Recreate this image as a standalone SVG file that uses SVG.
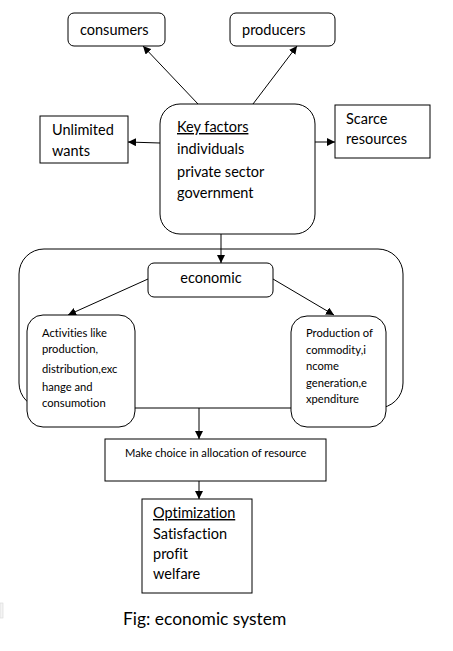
<svg xmlns="http://www.w3.org/2000/svg" width="453" height="651" viewBox="0 0 453 651">
<defs>
<marker id="ah" viewBox="0 0 10 10" refX="10" refY="5" markerWidth="8" markerHeight="8" orient="auto" markerUnits="userSpaceOnUse">
<path d="M0,0 L10,5 L0,10 z" fill="#000"/>
</marker>
<style>
.box{fill:#fff;stroke:#000;stroke-width:1}
.t{font-family:Lato,"Liberation Sans",sans-serif;font-size:14.5px;fill:#000;font-variant-ligatures:none}
.s{font-family:Lato,"Liberation Sans",sans-serif;font-size:11.2px;fill:#000;font-variant-ligatures:none}
.c{stroke:#000;stroke-width:1;fill:none}
.a{stroke:#000;stroke-width:1;fill:none;marker-end:url(#ah)}
</style>
</defs>
<rect width="453" height="651" fill="#fff"/>
<rect x="0" y="603" width="3" height="15" fill="#f4f4f4" stroke="#d8d8d8" stroke-width="0.6"/>

<g id="outer">
<rect x="19" y="249" width="384" height="159" rx="25" class="box"/>
</g>

<g id="connectors">
<line x1="198" y1="104" x2="143" y2="46" class="a"/>
<line x1="253" y1="104" x2="297" y2="46" class="a"/>
<line x1="160" y1="143" x2="128" y2="142" class="a"/>
<line x1="315" y1="142" x2="335" y2="142" class="a"/>
<line x1="221" y1="234" x2="221" y2="263" class="a"/>
<line x1="148" y1="279" x2="68" y2="315" class="a"/>
<line x1="273" y1="279" x2="334" y2="315" class="a"/>
<line x1="199" y1="408" x2="199" y2="439" class="a"/>
<line x1="199" y1="481" x2="199" y2="499" class="a"/>
</g>

<g id="consumers">
<rect x="68" y="13" width="97" height="33" rx="6" class="box"/>
<text x="80" y="35" class="t">consumers</text>
</g>
<g id="producers">
<rect x="230" y="13" width="105" height="33" rx="6" class="box"/>
<text x="242" y="35" class="t">producers</text>
</g>
<g id="key-factors">
<rect x="160" y="104" width="155" height="130" rx="20" class="box"/>
<text x="177" y="132" class="t" text-decoration="underline">Key factors</text>
<text x="177" y="154" class="t">individuals</text>
<text x="177" y="177" class="t">private sector</text>
<text x="177" y="198" class="t">government</text>
</g>
<g id="unlimited-wants">
<rect x="40" y="116" width="88" height="47" class="box"/>
<text x="52" y="135" class="t">Unlimited</text>
<text x="52" y="156" class="t">wants</text>
</g>
<g id="scarce-resources">
<rect x="335" y="105" width="95" height="53" class="box"/>
<text x="346" y="124" class="t">Scarce</text>
<text x="346" y="144" class="t">resources</text>
</g>
<g id="economic">
<rect x="148" y="263" width="125" height="34" rx="6" class="box"/>
<text x="211" y="283" class="t" text-anchor="middle">economic</text>
</g>
<g id="activities">
<rect x="27" y="315" width="108" height="112" rx="16" class="box"/>
<text x="42" y="337" class="s">Activities like</text>
<text x="42" y="353" class="s">production,</text>
<text x="42" y="373" class="s">distribution,exc</text>
<text x="42" y="391" class="s">hange and</text>
<text x="42" y="407" class="s">consumotion</text>
</g>
<g id="production">
<rect x="291" y="316" width="95" height="111" rx="16" class="box"/>
<text x="306" y="337" class="s">Production of</text>
<text x="306" y="354" class="s">commodity,i</text>
<text x="306" y="370" class="s">ncome</text>
<text x="306" y="387" class="s">generation,e</text>
<text x="306" y="403" class="s">xpenditure</text>
</g>
<g id="make-choice">
<rect x="105" y="439" width="221" height="42" class="box"/>
<text x="125" y="457" class="s">Make choice in allocation of resource</text>
</g>
<g id="optimization">
<rect x="142" y="499" width="110" height="94" class="box"/>
<text x="153" y="518" class="t" text-decoration="underline">Optimization</text>
<text x="153" y="539" class="t">Satisfaction</text>
<text x="153" y="559" class="t">profit</text>
<text x="153" y="579" class="t">welfare</text>
</g>
<text x="123" y="625" font-family="Lato,'Liberation Sans',sans-serif" font-size="17.4px" fill="#000" style="font-variant-ligatures:none">Fig: economic system</text>
</svg>
